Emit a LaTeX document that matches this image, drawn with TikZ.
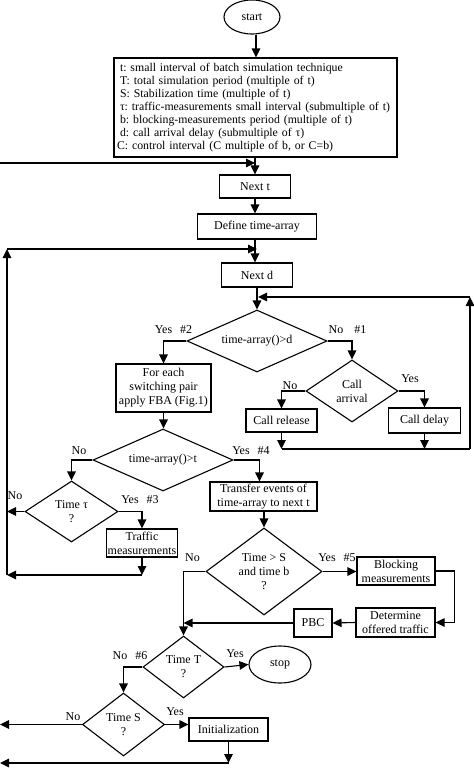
\documentclass[tikz,border=0pt]{standalone}
\usepackage{fontspec}
\setmainfont{Liberation Serif}
\usetikzlibrary{shapes.geometric,arrows.meta}
\frenchspacing
\begin{document}
\begin{tikzpicture}[x=1pt,y=-1pt,
  line width=1.1pt,
  >={Triangle[length=9pt,width=8.5pt]},
  every node/.style={font=\fontsize{12}{14}\selectfont},
  box/.style={draw, inner sep=1pt, align=center},
  dia/.style={draw, diamond, inner sep=0pt, align=center},
  oval/.style={draw, ellipse, inner sep=0pt},
  lbl/.style={inner sep=0pt}
]
\useasboundingbox (0,0) rectangle (474,769);

% nodes
\node[oval, minimum width=56, minimum height=34] (start) at (252,17) {start};
\node[draw, text width=279, inner xsep=2pt, inner ysep=1pt, minimum height=99, align=left,
  font=\fontsize{11.8}{12.9}\selectfont\frenchspacing] (params) at (255.5,107.5)
  {\hspace*{4pt}t: small interval of batch simulation technique\\
   \hspace*{4pt}T: total simulation period (multiple of t)\\
   \hspace*{4pt}S: Stabilization time (multiple of t)\\
   \hspace*{4pt}τ: traffic-measurements small interval (submultiple of t)\\
   \hspace*{4pt}b: blocking-measurements period (multiple of t)\\
   \hspace*{4pt}d: call arrival delay (submultiple of τ)\\
   \hspace*{1pt}C: control interval (C multiple of b, or C=b)};
\node[box, minimum width=71, minimum height=23] (nextt) at (255,186.5) {Next t};
\node[box, minimum width=119, minimum height=25] (define) at (257,226.5) {Define time-array};
\node[box, minimum width=71, minimum height=24] (nextd) at (257,275) {Next d};
\node[dia, minimum width=140, minimum height=62, aspect=2.26] (d1) at (257,341) {time-array()>d};
\node[box, minimum width=95, minimum height=48] (foreach) at (163.5,388)
  {For each\\switching pair\\apply FBA (Fig.1)};
\node[dia, minimum width=92, minimum height=62, aspect=1.5] (callarr) at (352,391) {Call\\arrival};
\node[box, minimum width=71, minimum height=23] (release) at (281.5,420.5) {Call release};
\node[box, minimum width=72, minimum height=25] (delay) at (424.5,420.5) {Call delay};
\node[dia, minimum width=140, minimum height=62, aspect=2.26] (d3) at (163,460) {time-array()>t};
\node[dia, minimum width=93, minimum height=61, aspect=1.5] (timetau) at (71.5,511.5) {Time τ\\?};
\node[box, minimum width=107, minimum height=29] (transfer) at (263.5,496.5)
  {Transfer events of\\time-array to next t};
\node[box, minimum width=71, minimum height=28] (traffic) at (142,543) {Traffic\\measurements};
\node[dia, minimum width=116, minimum height=87, aspect=1.33] (d5) at (264,571.5)
  {Time > S\\and time b\\?};
\node[box, minimum width=78, minimum height=28] (blocking) at (396,571) {Blocking\\measurements};
\node[box, minimum width=79, minimum height=29] (determine) at (395.5,622.5) {Determine\\offered traffic};
\node[box, minimum width=38, minimum height=28] (pbc) at (313,623) {PBC};
\node[dia, minimum width=81, minimum height=62, aspect=1.3] (timeT) at (183.5,667) {Time T\\?};
\node[oval, minimum width=62, minimum height=37] (stop) at (280,664.5) {stop};
\node[dia, minimum width=82, minimum height=63, aspect=1.3] (timeS) at (123.5,724.5) {Time S\\?};
\node[box, minimum width=79, minimum height=23] (init) at (228.5,729.5) {Initialization};

% labels
\node[lbl] (l1) at (173.5,330) {Yes\hspace{8pt}\#2};
\node[lbl] (l2) at (347.5,330) {No\hspace{11pt}\#1};
\node[lbl] (l3) at (290,386) {No};
\node[lbl] (l4) at (410,379) {Yes};
\node[lbl] (l5) at (79,451) {No};
\node[lbl] (l6) at (251,451) {Yes\hspace{8pt}\#4};
\node[lbl] (l7) at (15,496) {No};
\node[lbl] (l8) at (140,500) {Yes\hspace{8pt}\#3};
\node[lbl] (l9) at (192.5,558) {No};
\node[lbl] (l10) at (337,558) {Yes\hspace{8pt}\#5};
\node[lbl] (l11) at (130,656) {No\hspace{8pt}\#6};
\node[lbl] (l12) at (235,654) {Yes};
\node[lbl] (l13) at (73,717) {No};
\node[lbl] (l14) at (175,712) {Yes};

% helper coordinates
\coordinate (T0) at (0,163);
\coordinate (L1) at (7,575);
\coordinate (L2) at (7,249);
\coordinate (R1) at (470,449);
\coordinate (R2) at (470,297);
\coordinate (E1) at (0,724.5);
\coordinate (E2) at (0,763);

% connectors
\draw[->] (start.south -| 256,0) -- (params.north -| 256,0);
\draw[->] (T0) -- (T0 -| nextt.north);
\draw[->] (params.south -| nextt.north) -- (nextt.north);
\draw[->] (nextt.south) -- (nextt.south |- define.north);
\draw[->] (define.south -| nextt.north) -- (nextt.north |- nextd.north);
\draw[->] (nextd.south) -- (d1.north);

\draw[->] (d1.west) -| (foreach.north);
\draw[->] (d1.east) -| (callarr.north);
\draw[->] (callarr.west) -| (release.north);
\draw[->] (callarr.east) -| (delay.north);
\draw[->] (release.south) -- (release.south |- R1);
\draw[->] (delay.south) -- (delay.south |- R1);
\draw (release.south |- R1) -- (R1);
\draw[->] (R1) -- (R2);
\draw[->] (R2) -- (R2 -| 258,0);

\draw[->] (foreach.south) -- (foreach.south |- d3.north);
\draw[->] (d3.west) -| (timetau.north);
\draw[->] (d3.east) -| ([xshift=-4pt]transfer.north);
\draw[->] (timetau.west) -- (timetau.west -| L1);
\draw[->] (timetau.east) -| (traffic.north);
\draw[->] (traffic.south) -- (traffic.south |- L1);
\draw[->] (traffic.south |- L1) -- (L1);
\draw[->] (L1) -- (L2);
\draw[->] (L2) -- (L2 -| nextd.north);

\draw[->] (transfer.south -| d5.north) -- (d5.north);
\draw[->] (d5.east) -- (d5.east -| blocking.west);
\draw[->] (blocking.east) -- ++(19,0) |- (determine.east);
\draw[->] (determine.west) -- (pbc.east);
\draw[->] (pbc.west) -- (pbc.west -| timeT.north);
\draw[->] (d5.west) -| (timeT.north);
\draw[->] (timeT.east) -- (stop.west);
\draw[->] (timeT.west) -| (timeS.north);
\draw[->] (timeS.west) -- (E1);
\draw[->] (timeS.east) -- (timeS.east -| init.west);
\draw[->] (init.south) -- (init.south |- E2);
\draw[->] (init.south |- E2) -- (E2);
\end{tikzpicture}
\end{document}
